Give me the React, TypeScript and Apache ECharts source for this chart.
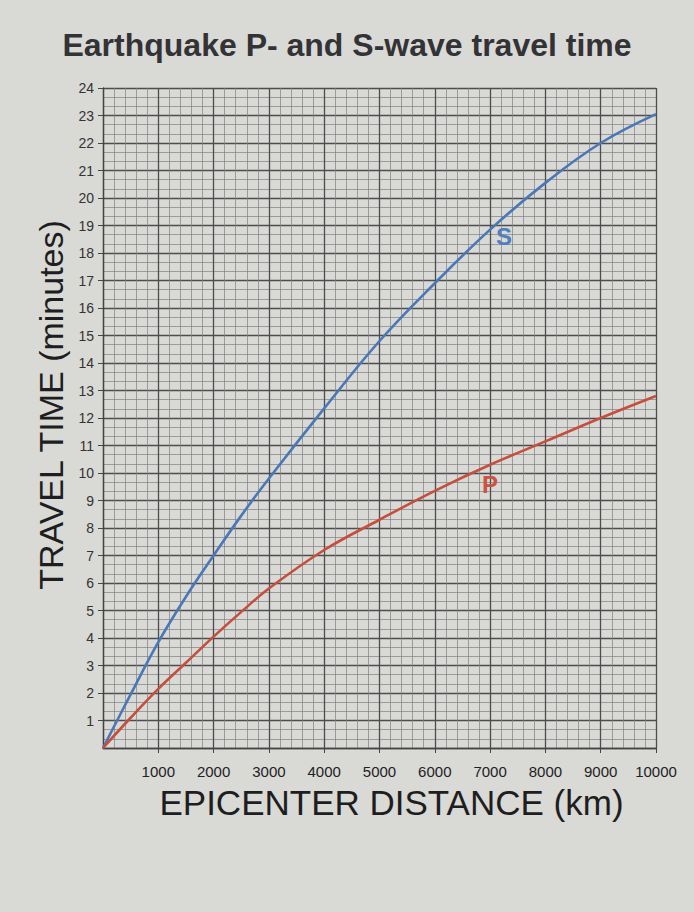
import React, { useEffect, useRef } from "react";
import * as echarts from "echarts";

const distances = [0, 500, 1000, 1500, 2000, 2500, 3000, 4000, 5000, 6000, 7000, 8000, 9000, 10000];
const sWave = [0, 1.95, 3.85, 5.5, 7.0, 8.45, 9.8, 12.35, 14.8, 16.9, 18.85, 20.55, 22.0, 23.05];
const pWave = [0, 1.1, 2.15, 3.1, 4.05, 4.95, 5.8, 7.2, 8.3, 9.35, 10.3, 11.15, 12.0, 12.8];
const sLabelAt = [7250, 18.6];
const pLabelAt = [7000, 9.6];

const FONT = "Liberation Sans, Arial, sans-serif";

export default function App() {
  const ref = useRef<HTMLDivElement>(null);
  useEffect(() => {
    if (!ref.current) return;
    const chart = echarts.init(ref.current, null, { renderer: "svg" });
    const majorLine = { show: true, lineStyle: { color: "#4d4d4f", width: 1.3 } };
    const minorLine = { show: true, lineStyle: { color: "#808082", width: 0.7 } };
    chart.setOption({
      animation: false,
      backgroundColor: "#d9d9d6",
      title: {
        text: "Earthquake P- and S-wave travel time",
        left: "center",
        top: 24,
        textStyle: { fontFamily: FONT, fontSize: 32, fontWeight: "bold", color: "#333336" },
      },
      grid: { left: 103, right: 38, top: 88, bottom: 164, containLabel: false },
      xAxis: {
        type: "value",
        min: 0,
        max: 10000,
        interval: 1000,
        name: "EPICENTER DISTANCE (km)",
        nameLocation: "middle",
        nameGap: 37,
        nameTextStyle: {
          fontFamily: FONT,
          fontSize: 35,
          color: "#1e1e20",
          verticalAlign: "top",
          padding: [0, 0, 0, 24],
        },
        axisLine: { show: true, lineStyle: { color: "#444", width: 1.3 } },
        axisTick: { show: true, length: 5, lineStyle: { color: "#444" } },
        axisLabel: {
          margin: 16,
          fontFamily: FONT,
          fontSize: 15,
          color: "#222",
          showMinLabel: false,
          formatter: (v: number) => (v === 0 ? "" : String(v)),
        },
        splitLine: majorLine,
        minorTick: { show: false, splitNumber: 5 },
        minorSplitLine: minorLine,
      },
      yAxis: {
        type: "value",
        min: 0,
        max: 24,
        interval: 1,
        name: "TRAVEL TIME (minutes)",
        nameLocation: "middle",
        nameRotate: 90,
        nameGap: 28,
        nameTextStyle: {
          fontFamily: FONT,
          fontSize: 34,
          color: "#1e1e20",
          padding: [0, 0, 0, 26],
        },
        axisLine: { show: true, lineStyle: { color: "#444", width: 1.3 } },
        axisTick: { show: true, length: 5, lineStyle: { color: "#444" } },
        axisLabel: {
          margin: 9,
          fontFamily: FONT,
          fontSize: 14,
          color: "#333",
          showMinLabel: false,
          formatter: (v: number) => (v === 0 ? "" : String(v)),
        },
        splitLine: majorLine,
        minorTick: { show: false, splitNumber: 3 },
        minorSplitLine: minorLine,
      },
      series: [
        {
          name: "S",
          type: "line",
          data: distances.map((d, i) => [d, sWave[i]]),
          smooth: 0.4,
          symbol: "none",
          lineStyle: { color: "#4a78b6", width: 2.6 },
          markPoint: {
            symbol: "circle",
            symbolSize: 0,
            data: [{ coord: sLabelAt }],
            label: {
              show: true,
              formatter: "S",
              fontFamily: FONT,
              fontSize: 24,
              fontWeight: "bold",
              color: "#4f7fbf",
            },
          },
        },
        {
          name: "P",
          type: "line",
          data: distances.map((d, i) => [d, pWave[i]]),
          smooth: 0.4,
          symbol: "none",
          lineStyle: { color: "#c54e3c", width: 2.6 },
          markPoint: {
            symbol: "circle",
            symbolSize: 0,
            data: [{ coord: pLabelAt }],
            label: {
              show: true,
              formatter: "P",
              fontFamily: FONT,
              fontSize: 24,
              fontWeight: "bold",
              color: "#cc5344",
            },
          },
        },
      ],
    });
    return () => chart.dispose();
  }, []);
  return (
    <div
      ref={ref}
      style={{ position: "fixed", left: 0, top: 0, width: 694, height: 912 }}
    />
  );
}
